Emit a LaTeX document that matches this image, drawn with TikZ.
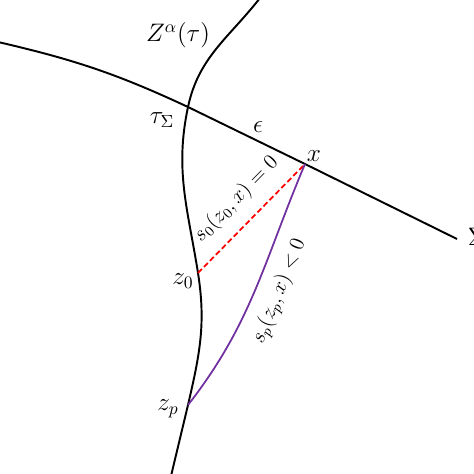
\documentclass[tikz,border=0pt]{standalone}
\definecolor{intpurple}{RGB}{112,48,160}
\begin{document}
\begin{tikzpicture}[x=0.2mm,y=0.2mm,line width=1.1pt,
    lbl/.style={font=\fontsize{14}{16}\selectfont},
    slbl/.style={font=\fontsize{12}{14}\selectfont,sloped}]
    \useasboundingbox (0,0) rectangle (474,474);
    % points on the worldline and on the surface
    \coordinate (Ztop) at (260,476);
    \coordinate (tauS) at (188,367);
    \coordinate (z0) at (198,201);
    \coordinate (zp) at (188,69);
    \coordinate (Zbot) at (171,-2);
    \coordinate (Sleft) at (-2,432);
    \coordinate (x) at (305,310);
    \coordinate (Sright) at (457,235);
    % worldline and surface
    \draw (Ztop) to[out=232,in=78] (tauS)
        to[out=258,in=99] (z0)
        to[out=279,in=77] (zp) -- (Zbot);
    \draw (Sleft) to[out=-13,in=155] (tauS) -- (x) -- (Sright);
    % the two intervals
    \draw[red,line width=1pt,dash pattern=on 1.1mm off 0.6mm] (z0) -- (x)
        node[slbl,pos=0.52,above=4pt,text=black] {$s_0(z_0,x)=0$};
    \draw[intpurple,line width=1pt] (zp) to[out=52,in=247]
        node[slbl,pos=0.53,below=3pt,text=black] {$s_p(z_p,x)<0$} (x);
    % labels
    \node[lbl] (Zlbl) at (178,439) {$Z^\alpha(\tau)$};
    \node[lbl] (tauSlbl) at (162,354) {$\tau_\Sigma$};
    \node[lbl] (eps) at (258,347) {$\epsilon$};
    \node[lbl] (xlbl) at (314,318) {$x$};
    \node[lbl] (z0lbl) at (183,193) {$z_0$};
    \node[lbl] (zplbl) at (168,65) {$z_p$};
    \node[lbl,anchor=west] (Sig) at (461,237) {$\Sigma$};
\end{tikzpicture}
\end{document}
